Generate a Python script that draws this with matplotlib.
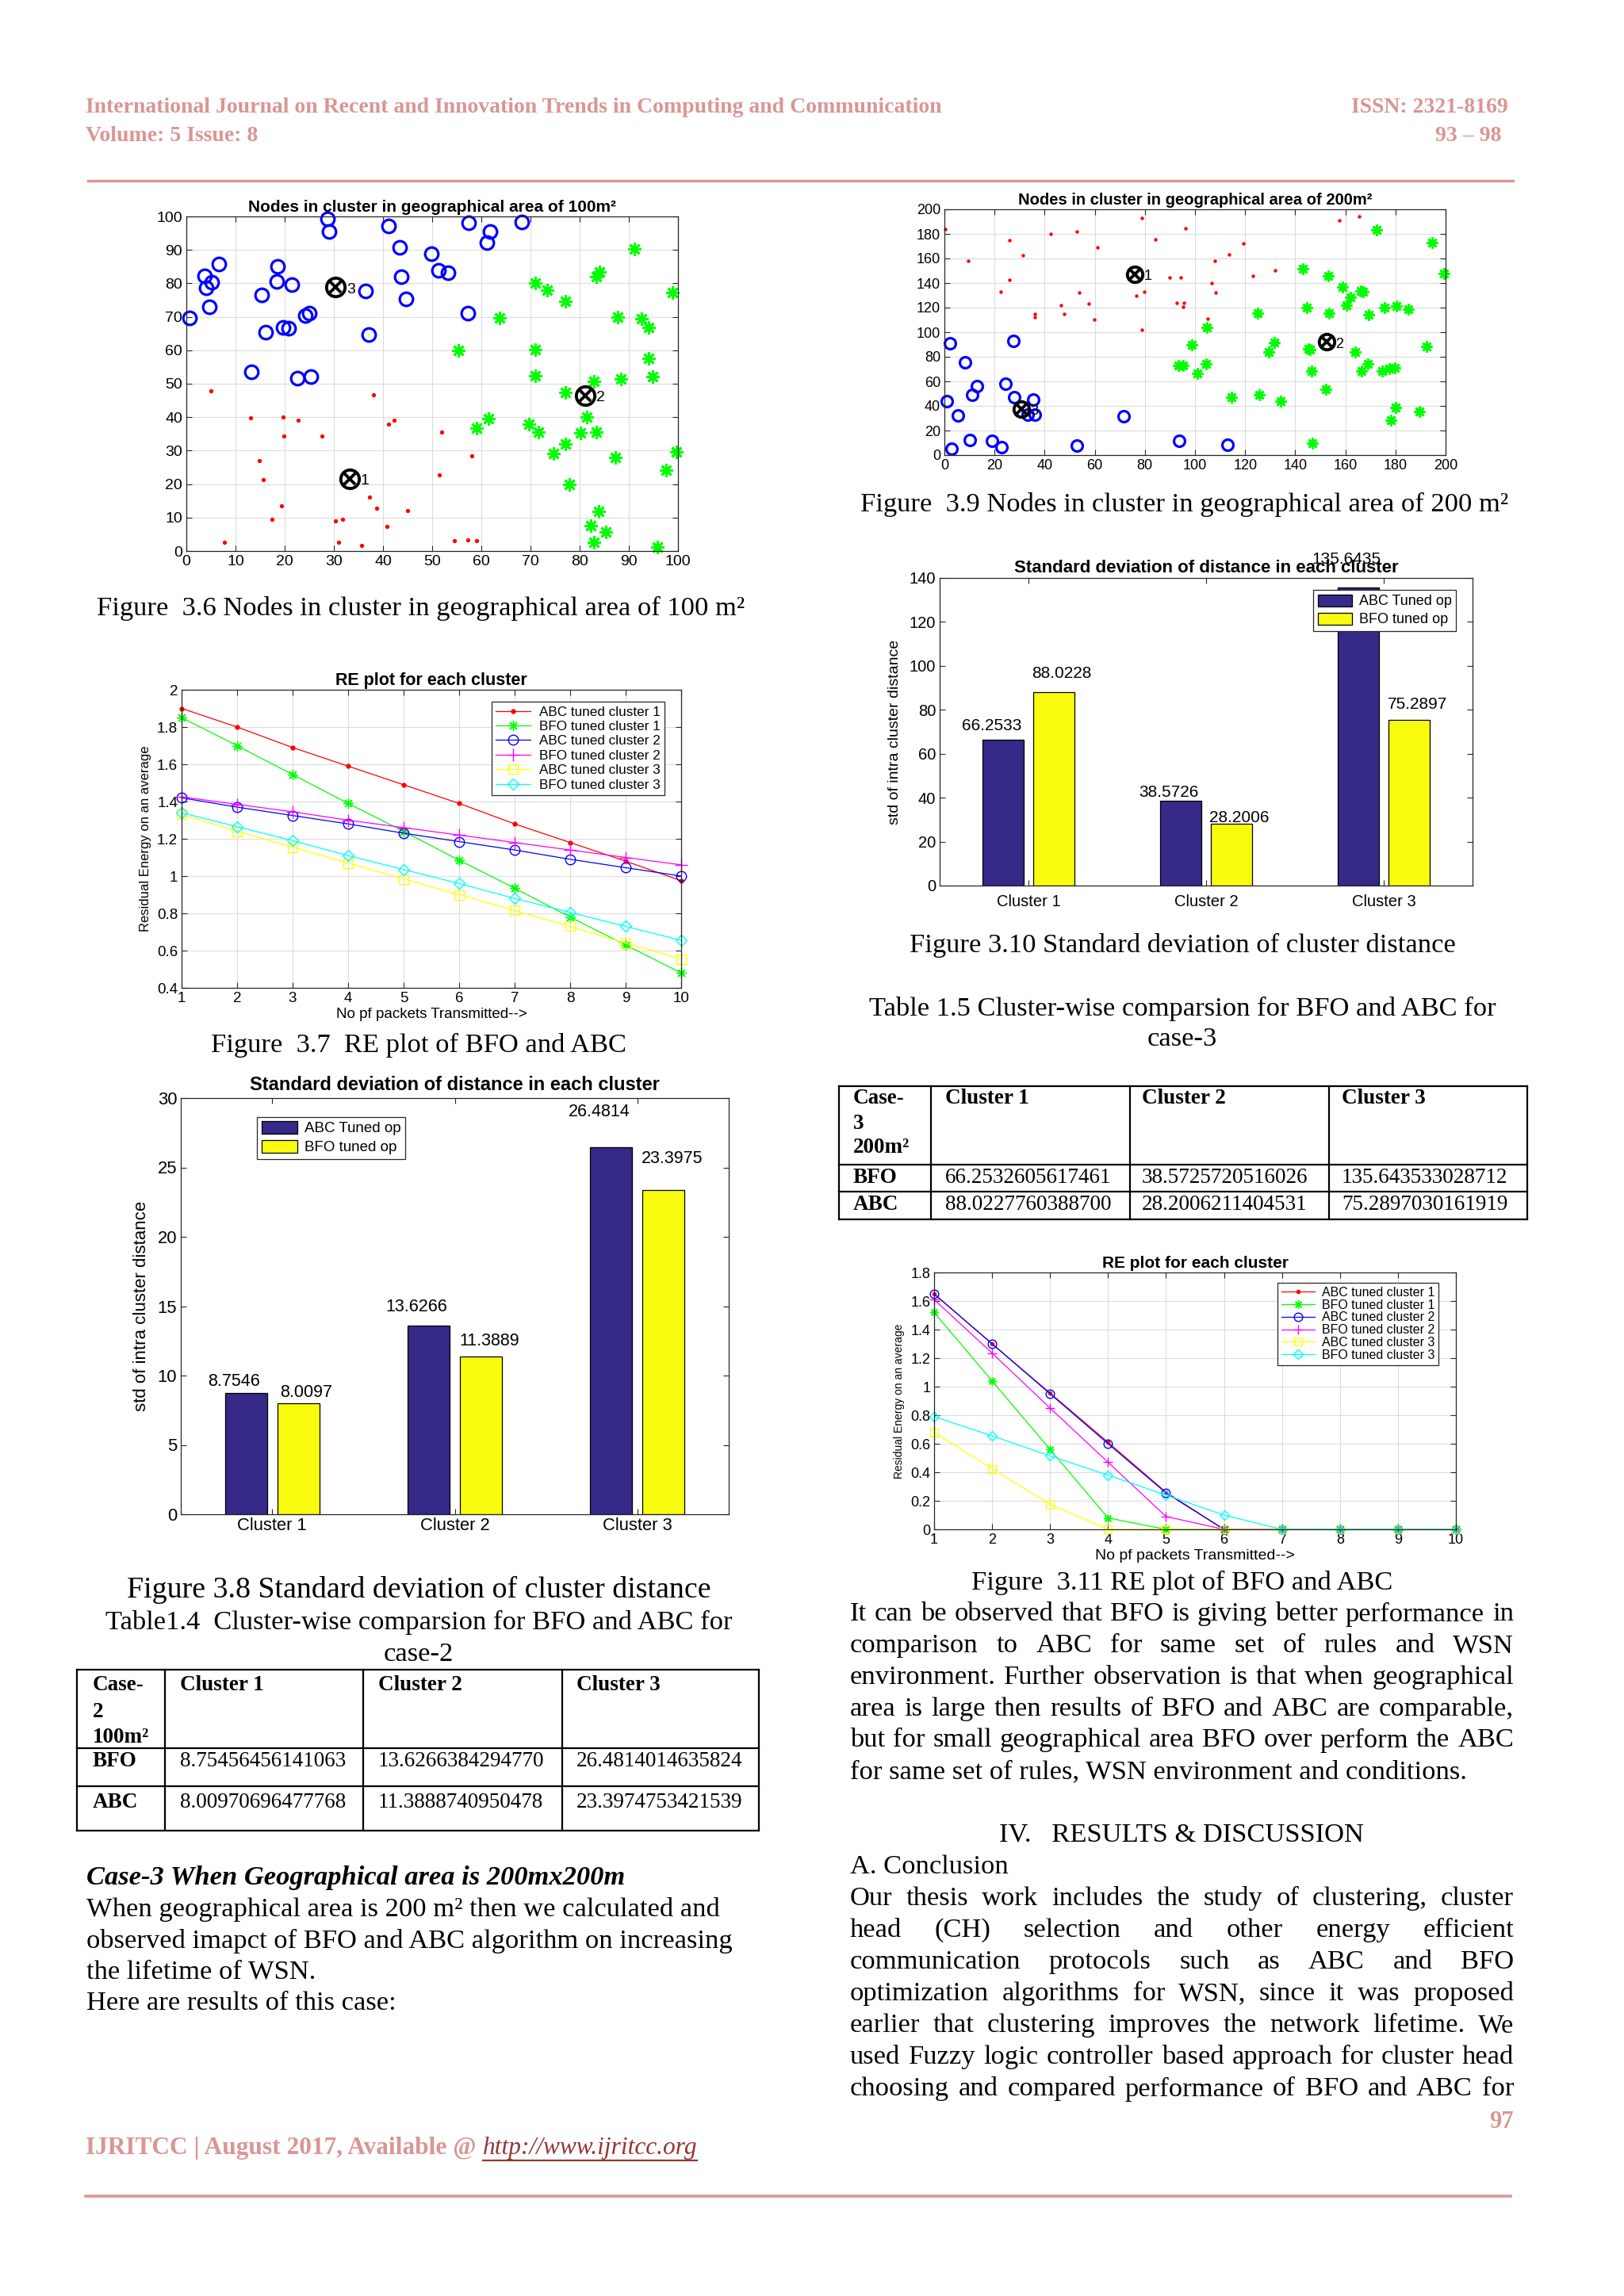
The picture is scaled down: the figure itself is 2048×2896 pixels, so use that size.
import numpy as np
import matplotlib
matplotlib.use('Agg')
import matplotlib.pyplot as plt
from matplotlib.patches import Patch
from matplotlib.ticker import FuncFormatter

# ---------------- data ----------------
clusters = ['Cluster 1', 'Cluster 2', 'Cluster 3']
packets = list(range(1, 11))
re_labels = ['ABC tuned cluster 1', 'BFO tuned cluster 1', 'ABC tuned cluster 2',
             'BFO tuned cluster 2', 'ABC tuned cluster 3', 'BFO tuned cluster 3']
bar_labels = ['ABC Tuned op', 'BFO tuned op']
head_labels = ['1', '2', '3']

# Fig 3.6 - nodes, 100 m area
n100_red_x = [5.0, 13.0, 19.6, 22.7, 19.9, 27.6, 38.1, 41.1, 42.3, 52.0, 58.0, 51.4, 14.9, 15.7,
              19.3, 17.4, 7.8, 30.4, 31.7, 30.9, 35.6, 37.2, 38.7, 40.8, 45.0, 54.5, 57.3, 59.1]
n100_red_y = [47.9, 39.9, 40.0, 39.1, 34.3, 34.3, 46.6, 38.0, 39.0, 35.5, 28.4, 22.7, 26.9, 21.4,
              13.5, 9.4, 2.5, 9.0, 9.4, 2.7, 1.7, 16.2, 12.8, 7.4, 12.2, 3.0, 3.4, 3.1]
n100_green_x = [91.2, 84.1, 83.4, 71.0, 73.4, 77.1, 98.8, 63.7, 87.7, 92.6, 94.0, 55.4, 70.9, 94.1,
                71.0, 82.9, 88.4, 94.9, 77.1, 61.5, 59.0, 69.7, 71.6, 81.4, 80.1, 83.4, 77.1, 74.6,
                87.3, 99.7, 97.5, 77.9, 83.8, 82.3, 85.3, 82.9, 95.8]
n100_green_y = [90.3, 83.5, 81.9, 80.2, 78.0, 74.6, 77.2, 69.7, 69.9, 69.4, 66.9, 59.9, 60.1, 57.5,
                52.4, 50.8, 51.5, 52.2, 47.5, 39.6, 36.8, 38.0, 35.6, 40.0, 35.4, 35.6, 32.1, 29.1,
                27.9, 29.7, 24.2, 20.0, 11.9, 7.7, 5.8, 2.5, 1.3]
n100_blue_x = [28.7, 29.1, 41.2, 57.4, 61.8, 61.1, 68.3, 43.4, 49.8, 51.3, 53.3, 43.7, 44.7, 36.5,
               57.2, 37.1, 6.6, 3.7, 5.2, 4.0, 4.6, 0.7, 18.6, 18.4, 21.5, 15.4, 16.2, 19.6, 20.8,
               24.2, 25.0, 13.3, 22.5, 25.4]
n100_blue_y = [99.2, 95.4, 97.1, 98.0, 95.6, 92.1, 98.3, 90.7, 88.9, 84.0, 83.1, 81.9, 75.3, 77.7,
               71.2, 64.6, 85.9, 82.2, 80.3, 78.6, 73.1, 69.7, 85.1, 80.5, 79.6, 76.5, 65.3, 66.9,
               66.7, 70.4, 71.2, 53.6, 51.7, 52.2]
n100_head_x = [33.2, 81.2, 30.4]
n100_head_y = [21.6, 46.5, 78.8]

# Fig 3.9 - nodes, 200 m area
n200_red_x = [0.4, 9.5, 25.8, 31.2, 25.8, 22.5, 42.5, 52.9, 61.1, 53.9, 46.6, 47.8, 36.2, 36.2,
              57.6, 59.9, 78.8, 84.1, 96.1, 89.8, 94.2, 76.6, 79.7, 92.8, 95.7, 95.2, 78.8, 106.8,
              107.8, 108.1, 105.2, 113.5, 119.4, 123.1, 132.0, 157.7, 165.6]
n200_red_y = [183.8, 157.9, 175.1, 162.9, 142.7, 133.1, 180.2, 181.9, 169.1, 132.5, 121.9, 114.8,
              115.0, 112.0, 123.3, 110.4, 192.9, 175.6, 184.5, 144.4, 144.2, 129.9, 133.1, 123.6,
              124.1, 120.6, 102.0, 140.1, 158.1, 132.5, 110.7, 163.5, 172.4, 145.5, 150.6, 190.9,
              194.2]
n200_green_x = [172.6, 194.6, 199.4, 142.9, 153.3, 159.0, 166.2, 167.0, 161.9, 160.3, 144.6, 153.6,
                125.0, 169.2, 175.7, 180.5, 185.1, 104.9, 98.6, 131.7, 129.4, 145.2, 145.8, 163.8,
                192.4, 93.2, 95.2, 104.4, 100.9, 169.1, 166.4, 174.6, 177.6, 179.8, 146.5, 152.2,
                114.7, 125.6, 134.2, 180.2, 189.6, 178.1, 146.9]
n200_green_y = [183.2, 173.0, 147.6, 151.9, 145.6, 136.8, 133.3, 132.7, 128.2, 121.7, 120.0, 115.3,
                115.7, 114.4, 119.8, 121.1, 118.7, 103.8, 89.8, 91.8, 83.6, 86.6, 86.0, 83.6, 88.5,
                73.0, 72.8, 74.1, 66.2, 74.4, 68.1, 68.1, 70.1, 70.8, 68.1, 53.6, 46.9, 48.8, 43.7,
                38.6, 35.8, 28.3, 9.4]
n200_blue_x = [2.2, 27.5, 8.2, 13.0, 24.3, 11.0, 1.0, 28.0, 35.6, 5.4, 33.2, 36.2, 71.5, 10.0,
               19.1, 22.9, 2.9, 53.0, 93.8, 113.0]
n200_blue_y = [90.8, 93.0, 75.3, 55.9, 58.0, 49.2, 43.6, 47.3, 45.3, 32.4, 33.0, 33.0, 31.7, 12.3,
               11.4, 6.7, 5.4, 7.6, 11.9, 8.4]
n200_head_x = [76.0, 152.4, 30.8]
n200_head_y = [147.2, 92.1, 37.3]

# Fig 3.7 - residual energy, 100 m
re100_abc1 = [1.90, 1.80, 1.69, 1.59, 1.49, 1.39, 1.28, 1.18, 1.08, 0.975]
re100_bfo1 = [1.85, 1.70, 1.545, 1.39, 1.24, 1.085, 0.935, 0.78, 0.63, 0.48]
re100_abc2 = [1.42, 1.37, 1.325, 1.28, 1.23, 1.185, 1.14, 1.09, 1.045, 1.00]
re100_bfo2 = [1.425, 1.385, 1.345, 1.30, 1.26, 1.22, 1.18, 1.14, 1.10, 1.06]
re100_abc3 = [1.33, 1.24, 1.155, 1.07, 0.985, 0.90, 0.815, 0.73, 0.64, 0.555]
re100_bfo3 = [1.34, 1.265, 1.19, 1.11, 1.035, 0.96, 0.88, 0.805, 0.73, 0.655]

# Fig 3.11 - residual energy, 200 m
re200_abc1 = [1.65, 1.30, 0.955, 0.61, 0.26, 0, 0, 0, 0, 0]
re200_bfo1 = [1.52, 1.04, 0.56, 0.08, 0, 0, 0, 0, 0, 0]
re200_abc2 = [1.65, 1.30, 0.95, 0.60, 0.255, 0, 0, 0, 0, 0]
re200_bfo2 = [1.61, 1.235, 0.85, 0.47, 0.09, 0, 0, 0, 0, 0]
re200_abc3 = [0.68, 0.425, 0.175, 0, 0, 0, 0, 0, 0, 0]
re200_bfo3 = [0.79, 0.655, 0.515, 0.38, 0.24, 0.10, 0, 0, 0, 0]

# Fig 3.8 / 3.10 - std of intra cluster distance
case2_abc = [8.7546, 13.6266, 26.4814]
case2_bfo = [8.0097, 11.3889, 23.3975]
case3_abc = [66.2533, 38.5726, 135.6435]
case3_bfo = [88.0228, 28.2006, 75.2897]

# Tables 1.4 / 1.5
table14_head = ['Case-', '2', '100m\u00b2']
table15_head = ['Case-', '3', '200m\u00b2']
table_rows = ['BFO', 'ABC']
table14_bfo = ['8.75456456141063', '13.6266384294770', '26.4814014635824']
table14_abc = ['8.00970696477768', '11.3888740950478', '23.3974753421539']
table15_bfo = ['66.2532605617461', '38.5725720516026', '135.643533028712']
table15_abc = ['88.0227760388700', '28.2006211404531', '75.2897030161919']

# ---------------- page setup ----------------
W, H = 2048, 2896
PINK = '#d99694'
LINK = '#943634'
NAVY = '#352a87'
YEL = '#f9fb0e'
SANS = 'Liberation Sans'
SERIF = 'Liberation Serif'
AX = '#262626'
BODY = 24.8
plt.rcParams['font.family'] = SANS

fig = plt.figure(figsize=(W / 100, H / 100), dpi=100)
fig.patch.set_facecolor('white')
renderer = fig.canvas.get_renderer()

page = fig.add_axes([0, 0, 1, 1], zorder=0)
page.set_xlim(0, W)
page.set_ylim(H, 0)
page.axis('off')


def rect(x0, y0, x1, y1):
    return [x0 / W, 1 - y1 / H, (x1 - x0) / W, (y1 - y0) / H]


def put(x, y, s, size=BODY, ha='left', weight='normal', style='normal', color='black'):
    return page.text(x, y, s, fontsize=size, ha=ha, va='center', fontweight=weight,
                     fontstyle=style, color=color, family=SERIF)


def justify(lines, x0, x1, y0, dy, last_ragged, size=BODY):
    for i, line in enumerate(lines):
        y = y0 + i * dy
        words = line.split()
        if last_ragged and i == len(lines) - 1:
            put(x0, y, line, size)
            continue
        ts = [put(x0, y, w, size) for w in words]
        ws = [t.get_window_extent(renderer).width for t in ts]
        gap = (x1 - x0 - sum(ws)) / (len(ws) - 1)
        x = x0
        for t, w in zip(ts, ws):
            t.set_x(x)
            x += w + gap


def matlab_axes(ax, fs, grid=True):
    for s in ax.spines.values():
        s.set_color(AX)
        s.set_linewidth(0.9)
    ax.tick_params(direction='in', top=True, right=True, length=5, width=0.8,
                   labelsize=fs, colors=AX, labelcolor='black')
    if grid:
        ax.grid(True, color='#dcdcdc', lw=0.8)
        ax.set_axisbelow(True)


def node_plot(box, rx, ry, gx, gy, bx, by, hx, hy, lim, step, title, fs, tfs, ms):
    ax = fig.add_axes(rect(*box), zorder=2)
    ax.plot(rx, ry, 'o', color='red', ms=ms * 0.32, mew=0, clip_on=False)
    ax.plot(gx, gy, ls='none', marker=(8, 2, 0), color='#00ff00', ms=ms, mew=2, clip_on=False)
    ax.plot(bx, by, 'o', mfc='none', mec='#0000ff', ms=ms, mew=2.3, clip_on=False)
    ax.plot(hx, hy, 'o', mfc='none', mec='black', ms=ms * 1.4, mew=2.8, clip_on=False, zorder=5)
    ax.plot(hx, hy, 'x', color='black', ms=ms * 0.85, mew=2.8, clip_on=False, zorder=5)
    for lab, x, y in zip(head_labels, hx, hy):
        ax.annotate(lab, (x, y), xytext=(ms * 0.8, -2), textcoords='offset points',
                    fontsize=fs, va='center')
    ax.set_xlim(0, lim)
    ax.set_ylim(0, lim)
    ax.set_xticks(np.arange(0, lim + 1, step))
    ax.set_yticks(np.arange(0, lim + 1, step))
    ax.set_title(title, fontsize=tfs, fontweight='bold', pad=4)
    matlab_axes(ax, fs)
    return ax


re_styles = [('red', 'o', 3.5), ('#00ff00', (8, 2, 0), 9), ('#0000ff', 'o', 9),
             ('#ff00ff', '+', 11), ('#ffff00', 's', 8), ('#00ffff', 'D', 7.5)]


def re_plot(box, series, fs, xfs, yfs, tfs, lfs, lsp, anchor, k):
    ax = fig.add_axes(rect(*box), zorder=2)
    for ys, lab, (c, m, ms) in zip(series, re_labels, re_styles):
        ax.plot(packets, ys, color=c, marker=m, ms=ms * k, lw=0.9, label=lab,
                mfc=c if lab == re_labels[0] else 'none', mec=c, mew=1.0, clip_on=False)
    ax.set_xlim(1, 10)
    ax.set_xticks(packets)
    ax.yaxis.set_major_formatter(FuncFormatter(lambda v, p: '%g' % round(v, 2)))
    ax.set_title('RE plot for each cluster', fontsize=tfs, fontweight='bold', pad=4)
    ax.set_xlabel('No pf packets Transmitted-->', fontsize=xfs, labelpad=2)
    ax.set_ylabel('Residual Energy on an average', fontsize=yfs, labelpad=5)
    matlab_axes(ax, fs)
    leg = ax.legend(loc='upper right', bbox_to_anchor=anchor, fontsize=lfs, fancybox=False,
                    edgecolor=AX, framealpha=1, borderaxespad=0, borderpad=0.3,
                    labelspacing=lsp, handlelength=2.6, handletextpad=0.6)
    leg.get_frame().set_linewidth(0.9)
    return ax


def bar_plot(box, abc, bfo, ymax, ystep, fs, yfs, tfs, lfs, vfs, loc, anchor, tpad, xpad):
    ax = fig.add_axes(rect(*box), zorder=2)
    x = np.arange(1, len(clusters) + 1)
    ax.bar(x - 0.143, abc, 0.23, color=NAVY, edgecolor='black', lw=0.9)
    ax.bar(x + 0.143, bfo, 0.23, color=YEL, edgecolor='black', lw=0.9)
    for xi, v in zip(x - 0.143, abc):
        ax.text(xi - 0.065, v * 1.095, '%.4f' % v, ha='center', va='center', fontsize=vfs)
    for xi, v in zip(x + 0.143, bfo):
        ax.text(xi + 0.045, v * 1.095, '%.4f' % v, ha='center', va='center', fontsize=vfs)
    ax.set_xlim(0.5, 3.5)
    ax.set_ylim(0, ymax)
    ax.set_yticks(np.arange(0, ymax + 1, ystep))
    ax.set_xticks(x)
    ax.set_xticklabels(clusters)
    ax.set_title('Standard deviation of distance in each cluster', fontsize=tfs,
                 fontweight='bold', pad=tpad)
    ax.set_ylabel('std of intra cluster distance', fontsize=yfs, labelpad=7)
    matlab_axes(ax, fs, grid=False)
    ax.tick_params(axis='x', pad=xpad)
    handles = [Patch(facecolor=NAVY, edgecolor='black', lw=0.9),
               Patch(facecolor=YEL, edgecolor='black', lw=0.9)]
    leg = ax.legend(handles, bar_labels, loc=loc, bbox_to_anchor=anchor, fontsize=lfs,
                    fancybox=False, edgecolor=AX, framealpha=1, borderaxespad=0,
                    borderpad=0.3, labelspacing=0.3, handlelength=2.4, handleheight=0.9,
                    handletextpad=0.5)
    leg.get_frame().set_linewidth(0.9)
    return ax


def table(cols, rows, head, names, data, pads, head_ys, row_ys, size=19.5):
    for xc in cols:
        page.plot([xc, xc], [rows[0], rows[-1]], color='black', lw=1.6)
    for yr in rows:
        page.plot([cols[0], cols[-1]], [yr, yr], color='black', lw=1.6)
    for s, y in zip(head, head_ys):
        put(cols[0] + pads[0], y, s, size, weight='bold')
    for j, c in enumerate(clusters):
        put(cols[j + 1] + pads[j + 1], head_ys[0], c, size, weight='bold')
    for name, vals, y in zip(names, data, row_ys):
        put(cols[0] + pads[0], y, name, size, weight='bold')
        for j, v in enumerate(vals):
            put(cols[j + 1] + pads[j + 1], y, v, size)


# ---------------- header / footer ----------------
put(108, 135, 'International Journal on Recent and Innovation Trends in Computing and Communication',
    20, weight='bold', color=PINK)
put(108, 172, 'Volume: 5 Issue: 8', 20, weight='bold', color=PINK)
put(1902, 135, 'ISSN: 2321-8169', 20, ha='right', weight='bold', color=PINK)
put(1893, 172, '93 \u2013 98', 20, ha='right', weight='bold', color=PINK)
page.plot([111, 1908], [228, 228], color=PINK, lw=2.4)

put(1909, 2677, '97', 22, ha='right', weight='bold', color=PINK)
t1 = put(108, 2710, 'IJRITCC | August 2017, Available @', 22.6, weight='bold', color=PINK)
x_link = 108 + t1.get_window_extent(renderer).width + 8
t2 = put(x_link, 2710, 'http://www.ijritcc.org', 22.6, style='italic', color=LINK)
page.plot([x_link, x_link + t2.get_window_extent(renderer).width], [2725, 2725], color=LINK, lw=1.6)
page.plot([108, 1905], [2770, 2770], color=PINK, lw=2.6)

# ---------------- charts ----------------
node_plot((235, 273, 855, 695), n100_red_x, n100_red_y, n100_green_x, n100_green_y,
          n100_blue_x, n100_blue_y, n100_head_x, n100_head_y, 100, 10,
          'Nodes in cluster in geographical area of 100m\u00b2', 14, 15, 12)
node_plot((1191, 264, 1823, 574), n200_red_x, n200_red_y, n200_green_x, n200_green_y,
          n200_blue_x, n200_blue_y, n200_head_x, n200_head_y, 200, 20,
          'Nodes in cluster in geographical area of 200m\u00b2', 13, 14.5, 10)

ax37 = re_plot((229, 870, 859, 1246),
               [re100_abc1, re100_bfo1, re100_abc2, re100_bfo2, re100_abc3, re100_bfo3],
               13.5, 13.5, 12, 15.5, 12.3, 0.2, (0.966, 0.959), 1.0)
ax37.set_ylim(0.4, 2)
ax37.set_yticks(np.arange(0.4, 2.01, 0.2))

ax311 = re_plot((1178, 1605, 1836, 1929),
                [re200_abc1, re200_bfo1, re200_abc2, re200_bfo2, re200_abc3, re200_bfo3],
                13, 14, 10, 15, 11.5, 0.05, (0.967, 0.96), 0.85)
ax311.set_ylim(0, 1.8)
ax311.set_yticks(np.arange(0, 1.81, 0.2))

bar_plot((1185, 729, 1857, 1117), case3_abc, case3_bfo, 140, 20, 14.5, 14, 16, 13, 15,
         'upper right', (0.969, 0.961), 5, 8)
bar_plot((228, 1385, 919, 1910), case2_abc, case2_bfo, 30, 5, 15.8, 16, 17, 13.5, 15.5,
         'upper left', (0.139, 0.955), 7, 3)

# ---------------- captions and tables ----------------
put(122, 767, 'Figure  3.6 Nodes in cluster in geographical area of 100 m\u00b2')
put(528, 1318, 'Figure  3.7  RE plot of BFO and ABC', ha='center')
put(528, 2005, 'Figure 3.8 Standard deviation of cluster distance', 27.3, ha='center')
put(528, 2046, 'Table1.4  Cluster-wise comparsion for BFO and ABC for', ha='center')
put(528, 2087, 'case-2', ha='center')

put(1085, 636, 'Figure  3.9 Nodes in cluster in geographical area of 200 m\u00b2')
put(1491, 1192, 'Figure 3.10 Standard deviation of cluster distance', ha='center')
put(1491, 1272, 'Table 1.5 Cluster-wise comparsion for BFO and ABC for', ha='center')
put(1491, 1311, 'case-3', ha='center')
put(1491, 1996, 'Figure  3.11 RE plot of BFO and ABC', ha='center')

table([97, 208, 458, 709, 957], [2106, 2205, 2253, 2309], table14_head, table_rows,
      [table14_bfo, table14_abc], [20, 19, 19, 18], [2125, 2159, 2192], [2222, 2273])
table([1058, 1174, 1425, 1676, 1926], [1370, 1469, 1503, 1538], table15_head, table_rows,
      [table15_bfo, table15_abc], [18, 18, 15, 16], [1386, 1417, 1447], [1485, 1520])

# ---------------- body text ----------------
put(109, 2368, 'Case-3 When Geographical area is 200mx200m', weight='bold', style='italic')
left_lines = ['When geographical area is 200 m\u00b2 then we calculated and',
              'observed imapct of BFO and ABC algorithm on increasing',
              'the lifetime of WSN.',
              'Here are results of this case:']
for i, s in enumerate(left_lines):
    put(109, 2409 + 39.3 * i, s)

para1 = ['It can be observed that BFO is giving better performance in',
         'comparison to ABC for same set of rules and WSN',
         'environment. Further observation is that when geographical',
         'area is large then results of BFO and ABC are comparable,',
         'but for small geographical area BFO over perform the ABC',
         'for same set of rules, WSN environment and conditions.']
justify(para1, 1072, 1909, 2036, 39.8, True)

put(1490, 2314, 'IV.   RESULTS & DISCUSSION', ha='center')
put(1072, 2355, 'A. Conclusion')
para2 = ['Our thesis work includes the study of clustering, cluster',
         'head (CH) selection and other energy efficient',
         'communication protocols such as ABC and BFO',
         'optimization algorithms for WSN, since it was proposed',
         'earlier that clustering improves the network lifetime. We',
         'used Fuzzy logic controller based approach for cluster head',
         'choosing and compared performance of BFO and ABC for']
justify(para2, 1072, 1909, 2395, 40, False)

fig.savefig('out.png', dpi=100, facecolor='white')
